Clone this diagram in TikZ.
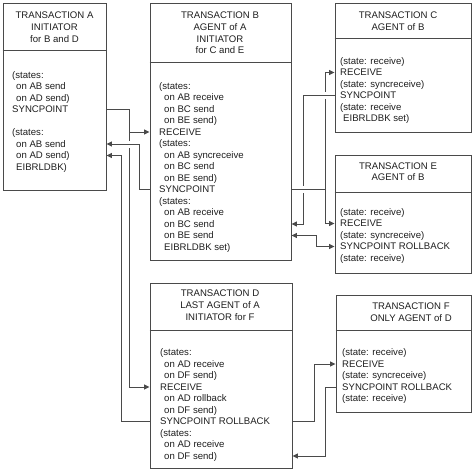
\documentclass[tikz,border=0pt]{standalone}
\usepackage{fontspec}
\setmainfont{Liberation Sans}
\usetikzlibrary{arrows.meta}
\definecolor{lc}{HTML}{4A4A4A}
\definecolor{tc}{HTML}{1E1E1E}
\begin{document}
\begin{tikzpicture}[x=1pt,y=-1pt,
  box/.style={draw=lc, line width=0.9pt, inner sep=0pt},
  tl/.style={anchor=west, inner sep=0pt, text height=6.8pt, text depth=0pt,
             font=\fontsize{9.6}{11}\selectfont, text=tc},
  hl/.style={tl, anchor=center},
  conn/.style={draw=lc, line width=0.9pt},
  arr/.style={conn, -{Triangle[length=5.5pt,width=5pt]}},
  barr/.style={conn, {Triangle[length=5.5pt,width=5pt]}-{Triangle[length=5.5pt,width=5pt]}},
  hop/.style={conn, preaction={draw=white, line width=7pt}}
]
\useasboundingbox (0,0) rectangle (474,472);

% ---------- boxes ----------
\node[box, minimum width=103pt, minimum height=187pt] (A) at (54.5,96.5) {};
\node[box, minimum width=141pt, minimum height=257pt] (B) at (220.5,131.5) {};
\node[box, minimum width=136pt, minimum height=129pt] (C) at (403,67.5) {};
\node[box, minimum width=136pt, minimum height=118pt] (E) at (403,214) {};
\node[box, minimum width=142pt, minimum height=185pt] (D) at (221,375.5) {};
\node[box, minimum width=135pt, minimum height=117pt] (F) at (403.5,353.5) {};

% header dividers
\draw[conn] ([yshift=-48pt]A.north west) -- ([yshift=-48pt]A.north east);
\draw[conn] ([yshift=-60pt]B.north west) -- ([yshift=-60pt]B.north east);
\draw[conn] ([yshift=-36pt]C.north west) -- ([yshift=-36pt]C.north east);
\draw[conn] ([yshift=-38pt]E.north west) -- ([yshift=-38pt]E.north east);
\draw[conn] ([yshift=-48pt]D.north west) -- ([yshift=-48pt]D.north east);
\draw[conn] ([yshift=-36pt]F.north west) -- ([yshift=-36pt]F.north east);

% ---------- box A ----------
\node[hl] (ah1) at (54.5,15) {TRANSACTION A};
\node[hl] (ah2) at (54.5,27) {INITIATOR};
\node[hl] (ah3) at (54.5,39) {for B and D};
\node[tl] (a1) at (12,75) {(states:};
\node[tl] (a2) at (16,86.5) {on AB send};
\node[tl] (a3) at (16,98) {on AD send)};
\node[tl] (aSync) at (12,109.5) {SYNCPOINT};
\node[tl] (a5) at (12,132.5) {(states:};
\node[tl] (aAB) at (16,144) {on AB send};
\node[tl] (aAD) at (16,155.5) {on AD send)};
\node[tl] (a8) at (16,167) {EIBRLDBK)};

% ---------- box B ----------
\node[hl] (bh1) at (220,15) {TRANSACTION B};
\node[hl] (bh2) at (220,27) {AGENT of A};
\node[hl] (bh3) at (220,39) {INITIATOR};
\node[hl] (bh4) at (220,50.5) {for C and E};
\node[tl] (b1) at (159,86) {(states:};
\node[tl] (b2) at (164,97.5) {on AB receive};
\node[tl] (b3) at (164,109) {on BC send};
\node[tl] (b4) at (164,120.5) {on BE send)};
\node[tl] (bRecv) at (159,132) {RECEIVE};
\node[tl] (b6) at (159,143.5) {(states:};
\node[tl] (b7) at (164,155) {on AB syncreceive};
\node[tl] (b8) at (164,166.5) {on BC send};
\node[tl] (b9) at (164,178) {on BE send)};
\node[tl] (bSync) at (159,189.5) {SYNCPOINT};
\node[tl] (b11) at (159,201) {(states:};
\node[tl] (b12) at (164,212.5) {on AB receive};
\node[tl] (bBC) at (164,224) {on BC send};
\node[tl] (bBE) at (164,235.5) {on BE send};
\node[tl] (b15) at (164,247) {EIBRLDBK set)};

% ---------- box C ----------
\node[hl] (ch1) at (398,15) {TRANSACTION C};
\node[hl] (ch2) at (398,27) {AGENT of B};
\node[tl] (c1) at (340,61) {(state: receive)};
\node[tl] (cRecv) at (340,72.5) {RECEIVE};
\node[tl] (c3) at (340,84) {(state: syncreceive)};
\node[tl] (cSync) at (340,95.5) {SYNCPOINT};
\node[tl] (c5) at (340,107) {(state: receive};
\node[tl] (c6) at (343,118.5) {EIBRLDBK set)};

% ---------- box E ----------
\node[hl] (eh1) at (398,166) {TRANSACTION E};
\node[hl] (eh2) at (398,177.5) {AGENT of B};
\node[tl] (e1) at (340,212) {(state: receive)};
\node[tl] (eRecv) at (340,223.5) {RECEIVE};
\node[tl] (e3) at (340,235) {(state: syncreceive)};
\node[tl] (eSRB) at (340,246.5) {SYNCPOINT ROLLBACK};
\node[tl] (e5) at (340,258) {(state: receive)};

% ---------- box D ----------
\node[hl] (dh1) at (220,293) {TRANSACTION D};
\node[hl] (dh2) at (220,305) {LAST AGENT of A};
\node[hl] (dh3) at (220,317) {INITIATOR for F};
\node[tl] (d1) at (160,352.5) {(states:};
\node[tl] (d2) at (164,364) {on AD receive};
\node[tl] (d3) at (164,375.5) {on DF send)};
\node[tl] (dRecv) at (160,387) {RECEIVE};
\node[tl] (d5) at (164,398.5) {on AD rollback};
\node[tl] (d6) at (164,410) {on DF send)};
\node[tl] (dSRB) at (160,421.5) {SYNCPOINT ROLLBACK};
\node[tl] (d8) at (160,433) {(states:};
\node[tl] (d9) at (164,444.5) {on AD receive};
\node[tl] (dDF) at (164,456) {on DF send)};

% ---------- box F ----------
\node[hl] (fh1) at (411,306) {TRANSACTION F};
\node[hl] (fh2) at (411,318) {ONLY AGENT of D};
\node[tl] (f1) at (342,352.5) {(state: receive)};
\node[tl] (fRecv) at (342,364) {RECEIVE};
\node[tl] (f3) at (342,375.5) {(state: syncreceive)};
\node[tl] (fSRB) at (342,387) {SYNCPOINT ROLLBACK};
\node[tl] (f5) at (342,398.5) {(state: receive)};

% ---------- bus columns ----------
\coordinate (xa) at (121,0);
\coordinate (xb) at (129,0);
\coordinate (xc) at (139,0);
\coordinate (xd) at (303,0);
\coordinate (xe) at (316,0);
\coordinate (xf) at (325,0);
\coordinate (xg) at (314,0);
\coordinate (xh) at (325,0);

% ---------- connectors ----------
% A SYNCPOINT -> B RECEIVE and D RECEIVE
\draw[arr] (A.east |- aSync) -- (xb |- aSync) -- (xb |- bRecv) -- (B.west |- bRecv);
\draw[arr] (xb |- bRecv) -- (xb |- dRecv) -- (D.west |- dRecv);
% B SYNCPOINT -> A
\draw[arr] (B.west |- bSync) -- (xc |- bSync) -- (xc |- aAB) -- (A.east |- aAB);
% D SYNCPOINT ROLLBACK -> A
\draw[arr] (D.west |- dSRB) -- (xa |- dSRB) -- (xa |- aAD) -- (A.east |- aAD);

% B SYNCPOINT -> C RECEIVE and E RECEIVE
\draw[arr] (B.east |- bSync) -- (xf |- bSync) -- (xf |- cRecv) -- (C.west |- cRecv);
\draw[arr] (xf |- bSync) -- (xf |- eRecv) -- (E.west |- eRecv);
% C SYNCPOINT -> B
\draw[arr] (C.west |- cSync) -- (xd |- cSync) -- (xd |- bBC) -- (B.east |- bBC);
% B <-> E SYNCPOINT ROLLBACK
\draw[barr] (B.east |- bBE) -- (xe |- bBE) -- (xe |- eSRB) -- (E.west |- eSRB);

% D SYNCPOINT ROLLBACK -> F RECEIVE
\draw[arr] (D.east |- dSRB) -- (xg |- dSRB) -- (xg |- fRecv) -- (F.west |- fRecv);
% F SYNCPOINT ROLLBACK -> D
\draw[arr] (F.west |- fSRB) -- (xh |- fSRB) -- (xh |- dDF) -- (D.east |- dDF);

% ---------- line hops (gaps at crossings) ----------
\draw[hop] ([xshift=-3pt]xb |- aAB) -- ([xshift=3pt]xb |- aAB);
\draw[hop] ([xshift=-3pt]xd |- bSync) -- ([xshift=3pt]xd |- bSync);
\draw[hop] ([xshift=-3pt]xf |- cSync) -- ([xshift=3pt]xf |- cSync);
\end{tikzpicture}
\end{document}
